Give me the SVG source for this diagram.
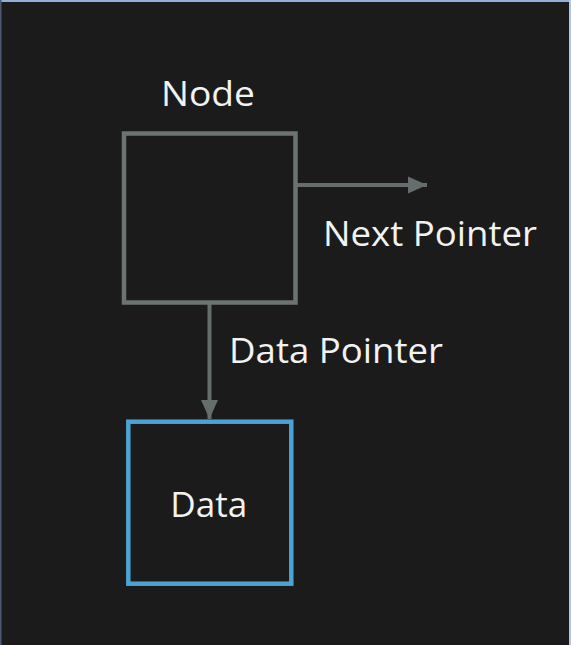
<svg xmlns="http://www.w3.org/2000/svg" width="571" height="645" viewBox="0 0 571 645">
<defs>
<style>
.lbl{font-family:"Open Sans","Liberation Sans",sans-serif;font-size:35px;fill:#f2f2f2}
.conn{stroke:#656e6d;stroke-width:4;fill:none}
</style>
<marker id="ah" markerUnits="userSpaceOnUse" markerWidth="20" markerHeight="20" viewBox="0 0 20 20" refX="19" refY="10" orient="auto">
<path d="M0,1.5 L19,10 L0,18.5 Z" fill="#656e6d"/>
</marker>
</defs>
<rect x="0" y="0" width="571" height="645" fill="#1b1b1b"/>
<line x1="0" y1="1" x2="571" y2="1" stroke="#8fb0d8" stroke-width="2"/>
<line x1="570" y1="0" x2="570" y2="645" stroke="#a9c8ea" stroke-width="2"/>
<line x1="0.75" y1="0" x2="0.75" y2="645" stroke="#4b5a6e" stroke-width="1.5"/>
<g id="connectors">
<line class="conn" x1="297" y1="185" x2="427" y2="185" marker-end="url(#ah)"/>
<line class="conn" x1="209.5" y1="304" x2="209.5" y2="419" marker-end="url(#ah)"/>
</g>
<g id="node">
<rect x="124" y="133.5" width="171.5" height="169" fill="none" stroke="#6b7473" stroke-width="4.5"/>
<text class="lbl" x="208" y="105.5" text-anchor="middle" textLength="94" lengthAdjust="spacingAndGlyphs">Node</text>
</g>
<g id="next-pointer">
<text class="lbl" x="323" y="245.5" textLength="214" lengthAdjust="spacingAndGlyphs">Next Pointer</text>
</g>
<g id="data-pointer">
<text class="lbl" x="229" y="362.5" textLength="214" lengthAdjust="spacingAndGlyphs">Data Pointer</text>
</g>
<g id="data">
<rect x="128.3" y="421.7" width="163" height="162" fill="none" stroke="#4aa3d3" stroke-width="4.5"/>
<text class="lbl" x="208.7" y="516.5" text-anchor="middle" textLength="77" lengthAdjust="spacingAndGlyphs">Data</text>
</g>
</svg>
